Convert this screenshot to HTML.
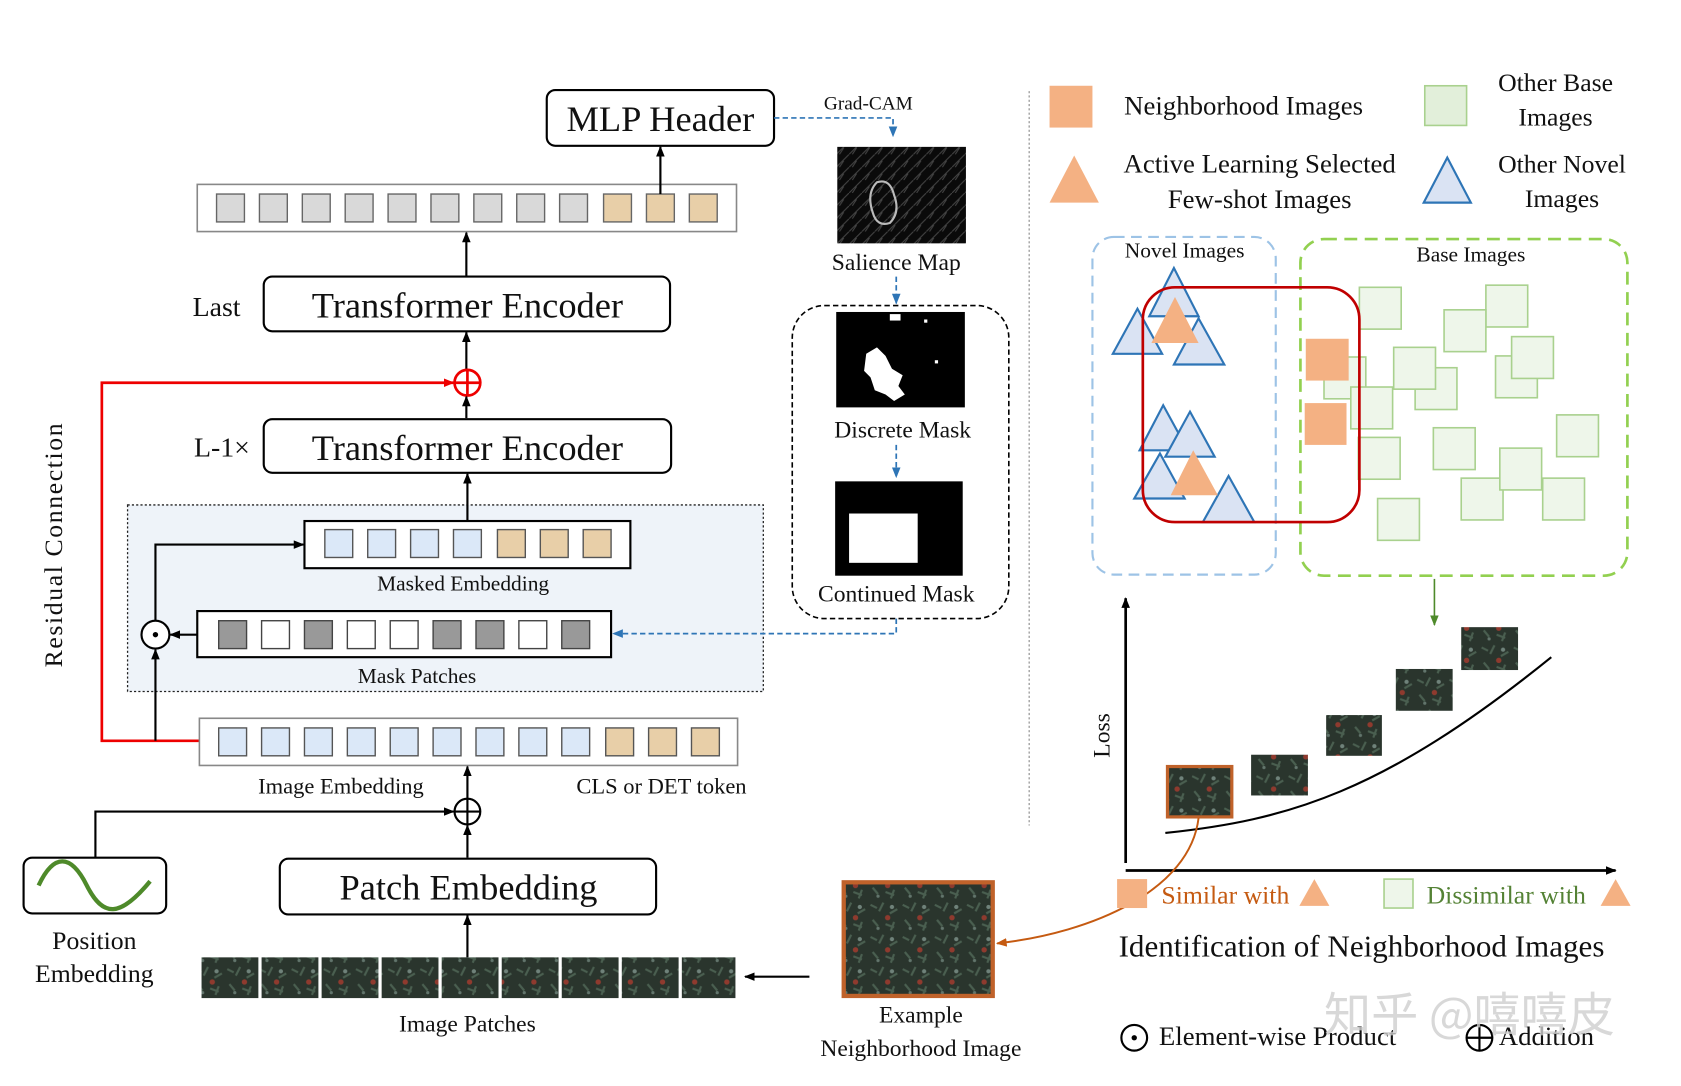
<!DOCTYPE html>
<html><head><meta charset="utf-8"><style>
html,body{margin:0;padding:0;background:#fff;}
svg{display:block;}
text{font-family:"Liberation Serif","Noto Serif CJK SC",serif;fill:#111;}
</style></head><body>
<svg width="1681" height="1086" viewBox="0 0 1568 1013" preserveAspectRatio="none" xmlns="http://www.w3.org/2000/svg">
<defs>
<marker id="ab" markerWidth="10" markerHeight="10" refX="9" refY="5" orient="auto" markerUnits="userSpaceOnUse"><path d="M0,1 L10,5 L0,9 z" fill="#000"/></marker>
<marker id="ar" markerWidth="10" markerHeight="10" refX="9" refY="5" orient="auto" markerUnits="userSpaceOnUse"><path d="M0,1 L10,5 L0,9 z" fill="#e00"/></marker>
<marker id="abl" markerWidth="10" markerHeight="10" refX="9" refY="5" orient="auto" markerUnits="userSpaceOnUse"><path d="M0,1 L10,5 L0,9 z" fill="#2e75b6"/></marker>
<marker id="ag" markerWidth="10" markerHeight="10" refX="9" refY="5" orient="auto" markerUnits="userSpaceOnUse"><path d="M0,1 L10,5 L0,9 z" fill="#4e8a2a"/></marker>
<marker id="ao" markerWidth="10" markerHeight="10" refX="9" refY="5" orient="auto" markerUnits="userSpaceOnUse"><path d="M0,1 L10,5 L0,9 z" fill="#c55a11"/></marker>
<pattern id="photo" width="30" height="30" patternUnits="userSpaceOnUse">
<rect width="30" height="30" fill="#2a352d"/>
<path d="M2,4 l6,3 M14,2 l-4,8 M20,12 l7,-4 M4,18 l5,6 M16,22 l8,3 M24,20 l-3,8" stroke="#4a5f50" stroke-width="2"/>
<circle cx="22" cy="6" r="2" fill="#6f827a"/><circle cx="9" cy="26" r="1.5" fill="#62756c"/>
<circle cx="18" cy="16" r="2.5" fill="#8f3a2e"/>
</pattern>
<pattern id="sal" width="12" height="12" patternUnits="userSpaceOnUse">
<rect width="12" height="12" fill="#0a0a0a"/><path d="M0,12 L12,0 M3,12 L7,6" stroke="#444" stroke-width="1"/>
</pattern>
</defs>

<rect x="510" y="84" width="212" height="52" rx="8" fill="#fff" stroke="#000" stroke-width="2"/>
<text x="616" y="122" font-size="34" text-anchor="middle">MLP Header</text>
<text x="810" y="102" font-size="18" text-anchor="middle">Grad-CAM</text>
<polyline points="722,110 833,110 833,127" fill="none" stroke="#2e75b6" stroke-width="1.6" stroke-dasharray="5,3" marker-end="url(#abl)"/>

<rect x="781" y="137" width="120" height="90" fill="url(#sal)"/>
<path d="M818,170 q12,-4 16,12 q6,16 -4,26 q-12,4 -16,-10 q-6,-18 4,-28 z" fill="none" stroke="#bbb" stroke-width="2"/>
<text x="836" y="252" font-size="22" text-anchor="middle">Salience Map</text>
<line x1="836" y1="258" x2="836" y2="283" stroke="#2e75b6" stroke-width="1.6" stroke-dasharray="5,3" marker-end="url(#abl)"/>
<rect x="739" y="285" width="202" height="292" rx="30" fill="none" stroke="#000" stroke-width="1.5" stroke-dasharray="5,3"/>
<rect x="780" y="291" width="120" height="89" fill="#000"/>
<path d="M808,330 l10,-6 l8,8 l6,12 l10,6 l-4,10 l6,8 l-10,6 l-8,-6 l-10,-4 l-4,-12 l-6,-6 z" fill="#fff"/>
<rect x="830" y="293" width="10" height="6" fill="#fff"/><rect x="872" y="336" width="3" height="3" fill="#fff"/><rect x="862" y="298" width="3" height="3" fill="#fff"/>
<text x="842" y="408" font-size="22" text-anchor="middle">Discrete Mask</text>
<line x1="836" y1="415" x2="836" y2="445" stroke="#2e75b6" stroke-width="1.6" stroke-dasharray="5,3" marker-end="url(#abl)"/>
<rect x="779" y="449" width="119" height="88" fill="#000"/>
<rect x="792" y="479" width="64" height="46" fill="#fff"/>
<text x="836" y="561" font-size="22" text-anchor="middle">Continued Mask</text>

<rect x="184" y="172" width="503" height="44" fill="#fff" stroke="#888" stroke-width="1.5"/>
<g stroke="#666" stroke-width="1.3">
<rect x="202" y="181" width="26" height="26" fill="#d9d9d9"/><rect x="242" y="181" width="26" height="26" fill="#d9d9d9"/><rect x="282" y="181" width="26" height="26" fill="#d9d9d9"/><rect x="322" y="181" width="26" height="26" fill="#d9d9d9"/><rect x="362" y="181" width="26" height="26" fill="#d9d9d9"/><rect x="402" y="181" width="26" height="26" fill="#d9d9d9"/><rect x="442" y="181" width="26" height="26" fill="#d9d9d9"/><rect x="482" y="181" width="26" height="26" fill="#d9d9d9"/><rect x="522" y="181" width="26" height="26" fill="#d9d9d9"/>
<rect x="563" y="181" width="26" height="26" fill="#e8cfa8"/><rect x="603" y="181" width="26" height="26" fill="#e8cfa8"/><rect x="643" y="181" width="26" height="26" fill="#e8cfa8"/>
</g>
<line x1="616" y1="181" x2="616" y2="137" stroke="#000" stroke-width="2" marker-end="url(#ab)"/>
<line x1="435" y1="258" x2="435" y2="217" stroke="#000" stroke-width="2" marker-end="url(#ab)"/>

<text x="202" y="295" font-size="26" text-anchor="middle">Last</text>
<rect x="246" y="258" width="379" height="51" rx="8" fill="#fff" stroke="#000" stroke-width="2"/>
<text x="436" y="296" font-size="34" text-anchor="middle">Transformer Encoder</text>
<line x1="435" y1="345" x2="435" y2="310" stroke="#000" stroke-width="2" marker-end="url(#ab)"/>
<circle cx="436" cy="357" r="12" fill="#fff" stroke="#e00" stroke-width="2.5"/>
<path d="M424,357 h24 M436,345 v24" stroke="#e00" stroke-width="2.5"/>
<polyline points="186,691 95,691 95,357 423,357" fill="none" stroke="#e00" stroke-width="2.5" marker-end="url(#ar)"/>
<line x1="435" y1="390" x2="435" y2="370" stroke="#000" stroke-width="2" marker-end="url(#ab)"/>
<text x="58" y="508" font-size="24" text-anchor="middle" transform="rotate(-90 58 508)" letter-spacing="1.5">Residual Connection</text>

<text x="207" y="426" font-size="26" text-anchor="middle">L-1×</text>
<rect x="246" y="391" width="380" height="50" rx="8" fill="#fff" stroke="#000" stroke-width="2"/>
<text x="436" y="429" font-size="34" text-anchor="middle">Transformer Encoder</text>

<rect x="119" y="471" width="593" height="174" fill="#eef3f9" stroke="#222" stroke-width="1.2" stroke-dasharray="2,2"/>
<polyline points="836,577 836,591 572,591" fill="none" stroke="#2e75b6" stroke-width="1.6" stroke-dasharray="5,3" marker-end="url(#abl)"/>
<line x1="436" y1="486" x2="436" y2="442" stroke="#000" stroke-width="2" marker-end="url(#ab)"/>

<rect x="284" y="486" width="304" height="44" fill="#fff" stroke="#000" stroke-width="2"/>
<g stroke="#555" stroke-width="1.3">
<rect x="303" y="494" width="26" height="26" fill="#dbe8f8"/><rect x="343" y="494" width="26" height="26" fill="#dbe8f8"/><rect x="383" y="494" width="26" height="26" fill="#dbe8f8"/><rect x="423" y="494" width="26" height="26" fill="#dbe8f8"/>
<rect x="464" y="494" width="26" height="26" fill="#e8cfa8"/><rect x="504" y="494" width="26" height="26" fill="#e8cfa8"/><rect x="544" y="494" width="26" height="26" fill="#e8cfa8"/>
</g>
<text x="432" y="551" font-size="20" text-anchor="middle">Masked Embedding</text>

<rect x="184" y="570" width="386" height="43" fill="#fff" stroke="#000" stroke-width="2"/>
<g stroke="#444" stroke-width="1.3">
<rect x="204" y="579" width="26" height="26" fill="#999"/><rect x="244" y="579" width="26" height="26" fill="#fff"/><rect x="284" y="579" width="26" height="26" fill="#999"/><rect x="324" y="579" width="26" height="26" fill="#fff"/><rect x="364" y="579" width="26" height="26" fill="#fff"/><rect x="404" y="579" width="26" height="26" fill="#999"/><rect x="444" y="579" width="26" height="26" fill="#999"/><rect x="484" y="579" width="26" height="26" fill="#fff"/><rect x="524" y="579" width="26" height="26" fill="#999"/>
</g>
<text x="389" y="637" font-size="20" text-anchor="middle">Mask Patches</text>

<circle cx="145" cy="592" r="13" fill="#fff" stroke="#000" stroke-width="2"/><circle cx="145" cy="592" r="2.5" fill="#000"/>
<line x1="184" y1="592" x2="159" y2="592" stroke="#000" stroke-width="2" marker-end="url(#ab)"/>
<polyline points="145,579 145,508 283,508" fill="none" stroke="#000" stroke-width="2" marker-end="url(#ab)"/>
<line x1="145" y1="691" x2="145" y2="606" stroke="#000" stroke-width="2" marker-end="url(#ab)"/>

<rect x="186" y="670" width="502" height="44" fill="#fff" stroke="#888" stroke-width="1.5"/>
<g stroke="#555" stroke-width="1.3">
<rect x="204" y="679" width="26" height="26" fill="#dbe8f8"/><rect x="244" y="679" width="26" height="26" fill="#dbe8f8"/><rect x="284" y="679" width="26" height="26" fill="#dbe8f8"/><rect x="324" y="679" width="26" height="26" fill="#dbe8f8"/><rect x="364" y="679" width="26" height="26" fill="#dbe8f8"/><rect x="404" y="679" width="26" height="26" fill="#dbe8f8"/><rect x="444" y="679" width="26" height="26" fill="#dbe8f8"/><rect x="484" y="679" width="26" height="26" fill="#dbe8f8"/><rect x="524" y="679" width="26" height="26" fill="#dbe8f8"/>
<rect x="565" y="679" width="26" height="26" fill="#e8cfa8"/><rect x="605" y="679" width="26" height="26" fill="#e8cfa8"/><rect x="645" y="679" width="26" height="26" fill="#e8cfa8"/>
</g>
<text x="318" y="740" font-size="21" text-anchor="middle">Image Embedding</text>
<text x="617" y="740" font-size="21" text-anchor="middle">CLS or DET token</text>

<line x1="436" y1="745" x2="436" y2="715" stroke="#000" stroke-width="2" marker-end="url(#ab)"/>
<circle cx="436" cy="757" r="12" fill="#fff" stroke="#000" stroke-width="2"/>
<path d="M424,757 h24 M436,745 v24" stroke="#000" stroke-width="2"/>
<polyline points="89,800 89,757 423,757" fill="none" stroke="#000" stroke-width="2" marker-end="url(#ab)"/>
<line x1="436" y1="800" x2="436" y2="770" stroke="#000" stroke-width="2" marker-end="url(#ab)"/>

<rect x="22" y="800" width="133" height="52" rx="8" fill="#fff" stroke="#000" stroke-width="2"/>
<path d="M36,826 C50,796 66,796 81,826 S112,856 140,822" fill="none" stroke="#4e8a2a" stroke-width="4"/>
<text x="88" y="885" font-size="24" text-anchor="middle">Position</text>
<text x="88" y="916" font-size="24" text-anchor="middle">Embedding</text>

<rect x="261" y="801" width="351" height="52" rx="8" fill="#fff" stroke="#000" stroke-width="2"/>
<text x="437" y="839" font-size="34" text-anchor="middle">Patch Embedding</text>
<line x1="436" y1="893" x2="436" y2="854" stroke="#000" stroke-width="2" marker-end="url(#ab)"/>

<g fill="url(#photo)">
<rect x="188" y="893" width="53" height="38"/><rect x="244" y="893" width="53" height="38"/><rect x="300" y="893" width="53" height="38"/><rect x="356" y="893" width="53" height="38"/><rect x="412" y="893" width="53" height="38"/><rect x="468" y="893" width="53" height="38"/><rect x="524" y="893" width="53" height="38"/><rect x="580" y="893" width="53" height="38"/><rect x="636" y="893" width="50" height="38"/>
</g>
<text x="436" y="962" font-size="22" text-anchor="middle">Image Patches</text>
<line x1="755" y1="911" x2="695" y2="911" stroke="#000" stroke-width="2" marker-end="url(#ab)"/>

<rect x="787" y="823" width="139" height="106" fill="url(#photo)" stroke="#c0622a" stroke-width="4"/>
<text x="859" y="954" font-size="22" text-anchor="middle">Example</text>
<text x="859" y="985" font-size="22" text-anchor="middle">Neighborhood Image</text>

<line x1="960" y1="85" x2="960" y2="770" stroke="#999" stroke-width="1.2" stroke-dasharray="2,2"/>

<rect x="979" y="80" width="40" height="39" fill="#f4b183"/>
<text x="1160" y="107" font-size="25" text-anchor="middle">Neighborhood Images</text>
<rect x="1329" y="80" width="39" height="37" fill="#e2efda" stroke="#a9d18e" stroke-width="1.5"/>
<text x="1451" y="85" font-size="24" text-anchor="middle">Other Base</text>
<text x="1451" y="117" font-size="24" text-anchor="middle">Images</text>
<polygon points="1002,145 1025,189 979,189" fill="#f4b183"/>
<text x="1175" y="161" font-size="25" text-anchor="middle">Active Learning Selected</text>
<text x="1175" y="194" font-size="25" text-anchor="middle">Few-shot Images</text>
<polygon points="1350,147 1372,189 1328,189" fill="#dae3f3" stroke="#2e75b6" stroke-width="2"/>
<text x="1457" y="161" font-size="24" text-anchor="middle">Other Novel</text>
<text x="1457" y="193" font-size="24" text-anchor="middle">Images</text>

<rect x="1019" y="221" width="171" height="315" rx="20" fill="none" stroke="#9dc3e6" stroke-width="2" stroke-dasharray="10,6"/>
<text x="1105" y="240" font-size="20" text-anchor="middle">Novel Images</text>
<rect x="1213" y="223" width="305" height="314" rx="22" fill="none" stroke="#92d050" stroke-width="2.5" stroke-dasharray="12,7"/>
<text x="1372" y="244" font-size="20" text-anchor="middle">Base Images</text>

<g fill="#eef6ea" stroke="#a9d18e" stroke-width="1.5">
<rect x="1268" y="268" width="39" height="39"/><rect x="1386" y="266" width="39" height="39"/><rect x="1347" y="289" width="39" height="39"/><rect x="1395" y="332" width="39" height="39"/><rect x="1410" y="314" width="39" height="39"/><rect x="1235" y="333" width="39" height="39"/><rect x="1320" y="343" width="39" height="39"/><rect x="1300" y="324" width="39" height="39"/><rect x="1260" y="361" width="39" height="39"/><rect x="1267" y="408" width="39" height="39"/><rect x="1337" y="399" width="39" height="39"/><rect x="1452" y="387" width="39" height="39"/><rect x="1363" y="446" width="39" height="39"/><rect x="1399" y="418" width="39" height="39"/><rect x="1439" y="446" width="39" height="39"/><rect x="1285" y="465" width="39" height="39"/>
</g>
<rect x="1218" y="316" width="40" height="39" fill="#f4b183"/>
<rect x="1217" y="376" width="39" height="39" fill="#f4b183"/>

<g fill="#dae3f3" stroke="#2e75b6" stroke-width="2">
<polygon points="1095,250 1118,295 1072,295"/><polygon points="1061,288 1084,330 1038,330"/><polygon points="1118,297 1142,340 1095,340"/>
<polygon points="1085,378 1108,420 1063,420"/><polygon points="1110,384 1133,426 1087,426"/><polygon points="1082,423 1105,465 1058,465"/><polygon points="1146,444 1170,487 1122,487"/>
</g>
<polygon points="1096,277 1118,320 1074,320" fill="#f4b183"/>
<polygon points="1113,420 1136,462 1092,462" fill="#f4b183"/>
<rect x="1066" y="268" width="202" height="219" rx="30" fill="none" stroke="#c00000" stroke-width="2.5"/>

<line x1="1338" y1="540" x2="1338" y2="583" stroke="#4e8a2a" stroke-width="1.5" marker-end="url(#ag)"/>

<line x1="1050" y1="805" x2="1050" y2="558" stroke="#000" stroke-width="2.5" marker-end="url(#ab)"/>
<line x1="1050" y1="812" x2="1507" y2="812" stroke="#000" stroke-width="2.5" marker-end="url(#ab)"/>
<text x="1035" y="686" font-size="22" text-anchor="middle" transform="rotate(-90 1035 686)">Loss</text>
<path d="M1087,777 C1200,765 1290,740 1447,613" fill="none" stroke="#000" stroke-width="2"/>
<g fill="url(#photo)">
<rect x="1167" y="704" width="53" height="38"/><rect x="1237" y="667" width="52" height="38"/><rect x="1302" y="624" width="53" height="39"/><rect x="1363" y="585" width="53" height="40"/>
</g>
<rect x="1089" y="715" width="60" height="47" fill="url(#photo)" stroke="#c0622a" stroke-width="3"/>
<path d="M1118,763 C1110,830 1020,870 930,880" fill="none" stroke="#c55a11" stroke-width="1.8" marker-end="url(#ao)"/>

<rect x="1042" y="820" width="28" height="27" fill="#f4b183"/>
<text x="1143" y="843" font-size="24" text-anchor="middle" style="fill:#c55a11">Similar with</text>
<polygon points="1226,820 1240,845 1212,845" fill="#f4b183"/>
<rect x="1291" y="820" width="27" height="27" fill="#eef6ea" stroke="#a9d18e" stroke-width="1.5"/>
<text x="1405" y="843" font-size="24" text-anchor="middle" style="fill:#548235">Dissimilar with</text>
<polygon points="1507,820 1521,845 1493,845" fill="#f4b183"/>
<text x="1270" y="892" font-size="29" text-anchor="middle">Identification of Neighborhood Images</text>

<circle cx="1058" cy="968" r="12" fill="none" stroke="#000" stroke-width="2"/><circle cx="1058" cy="968" r="2.5" fill="#000"/>
<text x="1081" y="975" font-size="25">Element-wise Product</text>
<circle cx="1380" cy="968" r="12" fill="none" stroke="#000" stroke-width="2"/>
<path d="M1368,968 h24 M1380,956 v24" stroke="#000" stroke-width="2"/>
<text x="1398" y="975" font-size="25">Addition</text>
<text x="1235" y="962" font-size="44" style="fill:#cfcfcf;opacity:0.8;font-family:'Noto Sans CJK SC',sans-serif">知乎 @嘻嘻皮</text>
</svg>
</body></html>
